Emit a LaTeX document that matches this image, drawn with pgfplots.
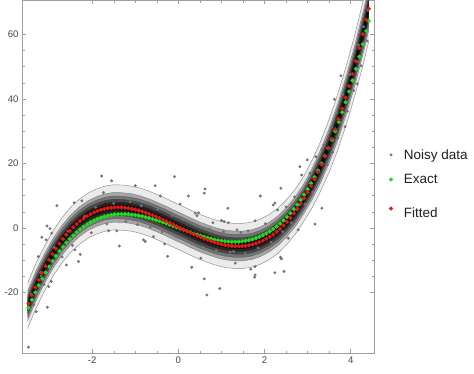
\documentclass[border=0pt]{standalone}
\usepackage{fontspec}
\setmainfont{Liberation Sans}
\usepackage{pgfplots}
\pgfplotsset{compat=1.18}
\usepackage{pgfplotstable}
\usepgfplotslibrary{fillbetween}
\definecolor{noisy}{RGB}{115,115,115}
\definecolor{exact}{RGB}{30,222,30}
\definecolor{fitted}{RGB}{228,22,22}

\pgfplotstableread{
x u0 l0 u1 l1 u2 l2 u3 l3 u4 l4 u5 l5
-3.5 -17.2 -31.2 -19.6 -28.8 -20.7 -27.7 -21.7 -26.7 -22.6 -25.8 -23.4 -25.0
-3.3 -10.8 -24.8 -13.2 -22.4 -14.3 -21.3 -15.3 -20.3 -16.2 -19.4 -17.0 -18.6
-3.1 -5.4 -19.4 -7.8 -17.0 -8.9 -15.9 -9.9 -14.9 -10.8 -14.0 -11.6 -13.2
-2.9 -0.7 -14.7 -3.1 -12.3 -4.2 -11.2 -5.2 -10.2 -6.1 -9.3 -6.9 -8.5
-2.7 3.2 -10.8 0.8 -8.4 -0.3 -7.3 -1.3 -6.3 -2.2 -5.4 -3.0 -4.6
-2.5 6.4 -7.6 4.0 -5.2 2.9 -4.1 1.9 -3.1 1.0 -2.2 0.2 -1.4
-2.3 8.9 -5.1 6.5 -2.7 5.4 -1.6 4.4 -0.6 3.5 0.3 2.7 1.1
-2.1 10.8 -3.2 8.4 -0.8 7.3 0.3 6.3 1.3 5.4 2.2 4.6 3.0
-1.9 12.1 -1.9 9.7 0.5 8.6 1.6 7.6 2.6 6.7 3.5 5.9 4.3
-1.7 13.0 -1.0 10.6 1.4 9.5 2.5 8.5 3.5 7.6 4.4 6.8 5.2
-1.5 13.4 -0.6 11.0 1.8 9.9 2.9 8.9 3.9 8.0 4.8 7.2 5.6
-1.3 13.3 -0.7 10.9 1.7 9.8 2.8 8.8 3.8 7.9 4.7 7.1 5.5
-1.1 13.0 -1.0 10.6 1.4 9.5 2.5 8.5 3.5 7.6 4.4 6.8 5.2
-0.9 12.4 -1.6 10.0 0.8 8.9 1.9 7.9 2.9 7.0 3.8 6.2 4.6
-0.7 11.5 -2.5 9.1 -0.1 8.0 1.0 7.0 2.0 6.1 2.9 5.3 3.7
-0.5 10.4 -3.6 8.0 -1.2 6.9 -0.1 5.9 0.9 5.0 1.8 4.2 2.6
-0.3 9.2 -4.8 6.8 -2.4 5.7 -1.3 4.7 -0.3 3.8 0.6 3.0 1.4
-0.1 7.9 -6.1 5.5 -3.7 4.4 -2.6 3.4 -1.6 2.5 -0.7 1.7 0.1
0.1 6.7 -7.3 4.3 -4.9 3.2 -3.8 2.2 -2.8 1.3 -1.9 0.5 -1.1
0.3 5.4 -8.6 3.0 -6.2 1.9 -5.1 0.9 -4.1 0.0 -3.2 -0.8 -2.4
0.5 4.2 -9.8 1.8 -7.4 0.7 -6.3 -0.3 -5.3 -1.2 -4.4 -2.0 -3.6
0.7 3.2 -10.8 0.8 -8.4 -0.3 -7.3 -1.3 -6.3 -2.2 -5.4 -3.0 -4.6
0.9 2.3 -11.7 -0.1 -9.3 -1.2 -8.2 -2.2 -7.2 -3.1 -6.3 -3.9 -5.5
1.1 1.7 -12.3 -0.7 -9.9 -1.8 -8.8 -2.8 -7.8 -3.7 -6.9 -4.5 -6.1
1.3 1.4 -12.6 -1.0 -10.2 -2.1 -9.1 -3.1 -8.1 -4.0 -7.2 -4.8 -6.4
1.5 1.4 -12.6 -1.0 -10.2 -2.1 -9.1 -3.1 -8.1 -4.0 -7.2 -4.8 -6.4
1.7 1.8 -12.2 -0.6 -9.8 -1.7 -8.7 -2.7 -7.7 -3.6 -6.8 -4.4 -6.0
1.9 2.7 -11.3 0.3 -8.9 -0.8 -7.8 -1.8 -6.8 -2.7 -5.9 -3.5 -5.1
2.1 4.1 -9.9 1.7 -7.5 0.6 -6.4 -0.4 -5.4 -1.3 -4.5 -2.1 -3.7
2.3 6.0 -8.0 3.6 -5.6 2.5 -4.5 1.5 -3.5 0.6 -2.6 -0.2 -1.8
2.5 8.6 -5.4 6.2 -3.0 5.1 -1.9 4.1 -0.9 3.2 0.0 2.4 0.8
2.7 11.8 -2.2 9.4 0.2 8.3 1.3 7.3 2.3 6.4 3.2 5.6 4.0
2.9 15.8 1.8 13.4 4.2 12.3 5.3 11.3 6.3 10.4 7.2 9.6 8.0
3.1 20.9 6.1 18.3 8.7 17.2 9.8 16.1 10.9 15.2 11.8 14.3 12.7
3.3 26.8 11.4 24.2 14.0 23.0 15.2 21.9 16.3 20.9 17.3 20.0 18.2
3.5 33.7 17.3 30.9 20.1 29.6 21.4 28.4 22.6 27.4 23.6 26.4 24.6
3.7 41.6 24.2 38.6 27.2 37.2 28.6 36.0 29.8 34.9 30.9 33.9 31.9
3.9 50.4 32.2 47.3 35.3 45.9 36.8 44.6 38.1 43.4 39.2 42.3 40.3
4.1 60.2 41.2 57.0 44.4 55.5 45.9 54.1 47.3 52.9 48.5 51.8 49.6
4.3 71.1 51.3 67.7 54.7 66.2 56.2 64.8 57.7 63.5 58.9 62.3 60.1
4.42 78.3 58.0 74.8 61.4 73.2 63.0 71.7 64.5 70.4 65.8 69.3 66.9
}\band

\pgfplotstableread{
x ex fit
-3.48 -24.74 -23.53
-3.40 -22.30 -20.91
-3.32 -19.99 -18.44
-3.24 -17.81 -16.11
-3.16 -15.75 -13.92
-3.08 -13.82 -11.86
-3.00 -12.00 -9.93
-2.92 -10.30 -8.13
-2.84 -8.71 -6.45
-2.76 -7.22 -4.90
-2.68 -5.85 -3.46
-2.60 -4.58 -2.13
-2.52 -3.40 -0.92
-2.44 -2.33 0.19
-2.36 -1.34 1.19
-2.28 -0.45 2.10
-2.20 0.35 2.90
-2.12 1.07 3.62
-2.04 1.71 4.24
-1.96 2.27 4.78
-1.88 2.76 5.23
-1.80 3.17 5.61
-1.72 3.51 5.90
-1.64 3.79 6.13
-1.56 4.00 6.28
-1.48 4.16 6.37
-1.40 4.26 6.40
-1.32 4.30 6.37
-1.24 4.29 6.28
-1.16 4.24 6.14
-1.08 4.14 5.95
-1.00 4.00 5.71
-0.92 3.82 5.43
-0.84 3.61 5.12
-0.76 3.36 4.76
-0.68 3.09 4.38
-0.60 2.78 3.97
-0.52 2.46 3.53
-0.44 2.11 3.07
-0.36 1.75 2.59
-0.28 1.38 2.10
-0.20 0.99 1.59
-0.12 0.60 1.08
-0.04 0.20 0.56
0.04 -0.20 0.04
0.12 -0.60 -0.48
0.20 -0.99 -0.99
0.28 -1.38 -1.49
0.36 -1.75 -1.98
0.44 -2.11 -2.46
0.52 -2.46 -2.91
0.60 -2.78 -3.34
0.68 -3.09 -3.75
0.76 -3.36 -4.13
0.84 -3.61 -4.47
0.92 -3.82 -4.78
1.00 -4.00 -5.05
1.08 -4.14 -5.28
1.16 -4.24 -5.46
1.24 -4.29 -5.59
1.32 -4.30 -5.66
1.40 -4.26 -5.68
1.48 -4.16 -5.64
1.56 -4.00 -5.54
1.64 -3.79 -5.37
1.72 -3.51 -5.13
1.80 -3.17 -4.81
1.88 -2.76 -4.42
1.96 -2.27 -3.95
2.04 -1.71 -3.39
2.12 -1.07 -2.75
2.20 -0.35 -2.01
2.28 0.45 -1.19
2.36 1.34 -0.26
2.44 2.33 0.77
2.52 3.40 1.90
2.60 4.58 3.14
2.68 5.85 4.49
2.76 7.22 5.96
2.84 8.71 7.54
2.92 10.30 9.24
3.00 12.00 11.07
3.08 13.82 13.03
3.16 15.75 15.12
3.24 17.81 17.34
3.32 19.99 19.70
3.40 22.30 22.21
3.48 24.74 24.86
3.56 27.32 27.66
3.64 30.03 30.61
3.72 32.88 33.71
3.80 35.87 36.98
3.88 39.01 40.41
3.96 42.30 44.00
4.04 45.74 47.76
4.12 49.33 51.70
4.20 53.09 55.81
4.28 57.00 60.10
4.36 61.08 64.57
4.42 64.25 68.05
}\curves

\pgfplotstableread{
x y
-1.55 14.6
-1.78 16.1
-1.00 13.1
-0.54 13.1
-0.09 15.9
0.62 12.1
0.60 10.8
-2.82 6.9
-2.42 7.8
-2.24 8.4
-1.74 11.0
-0.42 9.9
0.04 7.4
0.23 9.9
0.39 4.6
0.47 4.7
0.43 3.8
0.80 1.6
1.00 2.3
1.15 6.1
1.16 1.6
1.36 -0.6
-3.05 0.6
-3.17 -2.9
-2.94 -1.6
-3.07 -3.7
-2.98 -0.2
-2.32 -10.4
-2.60 -11.5
-2.40 -6.8
-2.28 -8.2
-3.01 -18.2
-2.95 -16.6
-3.04 -24.6
-3.48 -37.0
-3.30 -26.0
-3.25 -8.9
-3.19 -14.9
-1.37 -5.6
-1.62 -0.9
-1.43 -0.9
-0.81 -3.7
-0.77 -4.2
-0.58 -2.7
-0.32 -5.0
-0.25 -8.8
0.31 -12.2
0.52 -9.4
0.60 -15.8
0.66 -20.8
0.96 -18.8
1.28 -7.3
1.32 -10.9
1.06 2.0
1.90 9.9
1.78 2.2
2.20 7.1
2.30 5.6
2.38 12.3
2.24 7.7
2.55 -3.2
2.37 -9.1
2.39 -9.6
1.68 -12.8
1.78 -12.0
1.77 -15.3
1.78 -14.6
2.24 -13.9
2.45 -13.5
2.75 5.6
2.82 7.1
2.78 -0.6
2.86 16.4
2.82 19.0
2.99 21.1
3.17 1.2
3.33 6.1
3.77 47.2
4.15 44.7
3.62 39.9
3.87 31.4
3.33 24.4
3.19 22.1
4.15 51.6
-3.42 -20.5
-3.36 -23.8
-3.20 -13.9
-3.12 -17.6
-2.88 -6.1
-2.70 -9.0
-2.56 -1.0
-2.46 -5.4
-2.18 3.6
-2.02 -1.5
-1.92 6.4
-1.66 1.2
-1.50 7.6
-1.22 2.0
-1.12 8.1
-0.95 1.0
-0.86 6.9
-0.65 0.3
-0.48 5.8
-0.38 -1.2
-0.15 3.9
-0.05 -2.8
0.10 2.6
0.18 -4.0
0.35 1.1
0.56 -6.0
0.72 -0.3
0.88 -6.9
1.05 -1.2
1.20 -7.5
1.45 -1.4
1.55 -7.9
1.62 -0.9
1.85 -6.2
2.02 1.3
2.15 -4.4
2.42 -1.2
2.50 6.5
2.62 1.6
2.70 9.6
2.94 7.3
3.05 17.0
3.12 11.1
3.26 14.2
3.38 25.7
3.45 19.6
3.55 31.2
3.58 23.5
3.68 35.8
3.70 27.9
3.82 41.4
3.92 36.2
3.98 47.6
4.07 42.6
4.18 56.8
4.24 50.3
4.30 62.4
4.38 58.0
4.40 67.5
}\noisy

\begin{document}
\begin{tikzpicture}
\begin{axis}[name=ax, scale only axis, width=352pt, height=353pt,
  xmin=-3.63, xmax=4.54, ymin=-38.8, ymax=70.7,
  xtick={-2,0,2,4}, ytick={-20,0,20,40,60},
  minor x tick num=3, minor y tick num=3,
  tick align=inside, xtick pos=both, ytick pos=both,
  xticklabel pos=lower, yticklabel pos=left,
  major tick length=4.3pt, minor tick length=2.5pt,
  axis line style={black!38, line width=0.6pt},
  tick style={black!38, line width=0.5pt},
  tick label style={font=\fontsize{9.6}{11}\selectfont, text=black!72},
  /pgf/number format/assume math mode=true,
  legend image code/.code={\draw[#1] plot coordinates {(0cm,0cm)};},
  legend cell align=left,
  legend style={at={(1.0429,0.577)}, anchor=north west, draw=none, fill=none,
    inner sep=0pt, outer sep=0pt, row sep=13.3pt, column sep=11pt,
    font=\fontsize{13.5}{16}\selectfont, text=black!88,
    nodes={inner sep=0pt, outer sep=0pt}},
]
% --- band level 0 (outer)
\addplot[name path=u0, draw=black!45, line width=0.45pt, forget plot] table[x=x,y=u0]{\band};
\addplot[name path=l0, draw=black!45, line width=0.45pt, forget plot] table[x=x,y=l0]{\band};
\addplot[fill=black!8, draw=none, forget plot] fill between[of=u0 and l0];
% --- level 1
\addplot[name path=u1, draw=black!50, line width=0.45pt, forget plot] table[x=x,y=u1]{\band};
\addplot[name path=l1, draw=black!50, line width=0.45pt, forget plot] table[x=x,y=l1]{\band};
\addplot[fill=black!35, draw=none, forget plot] fill between[of=u1 and l1];
% --- level 2
\addplot[name path=u2, draw=black!62, line width=0.45pt, forget plot] table[x=x,y=u2]{\band};
\addplot[name path=l2, draw=black!62, line width=0.45pt, forget plot] table[x=x,y=l2]{\band};
\addplot[fill=black!55, draw=none, forget plot] fill between[of=u2 and l2];
% --- level 3
\addplot[name path=u3, draw=black!75, line width=0.45pt, forget plot] table[x=x,y=u3]{\band};
\addplot[name path=l3, draw=black!75, line width=0.45pt, forget plot] table[x=x,y=l3]{\band};
\addplot[fill=black!72, draw=none, forget plot] fill between[of=u3 and l3];
% --- level 4
\addplot[name path=u4, draw=black!85, line width=0.45pt, forget plot] table[x=x,y=u4]{\band};
\addplot[name path=l4, draw=black!85, line width=0.45pt, forget plot] table[x=x,y=l4]{\band};
\addplot[fill=black!86, draw=none, forget plot] fill between[of=u4 and l4];
% --- level 5 (core)
\addplot[name path=u5, draw=black!95, line width=0.45pt, forget plot] table[x=x,y=u5]{\band};
\addplot[name path=l5, draw=black!95, line width=0.45pt, forget plot] table[x=x,y=l5]{\band};
\addplot[fill=black!96, draw=none, forget plot] fill between[of=u5 and l5];

\addplot[only marks, mark=*, mark size=1.25pt, color=noisy] table[x=x,y=y]{\noisy};
\addlegendentry{\rule[-3pt]{0pt}{12.7pt}Noisy data}
\addplot[only marks, mark=*, mark size=1.9pt, color=exact] table[x=x,y=ex]{\curves};
\addlegendentry{\rule[-3pt]{0pt}{12.7pt}Exact}
\addplot[only marks, mark=*, mark size=1.9pt, color=fitted] table[x=x,y=fit]{\curves};
\addlegendentry{\rule[-9pt]{0pt}{27.7pt}Fitted}
\end{axis}
\pgfresetboundingbox
\useasboundingbox (ax.south west) ++(-22pt,-20pt) rectangle ++(474pt,373pt);
\end{tikzpicture}
\end{document}
